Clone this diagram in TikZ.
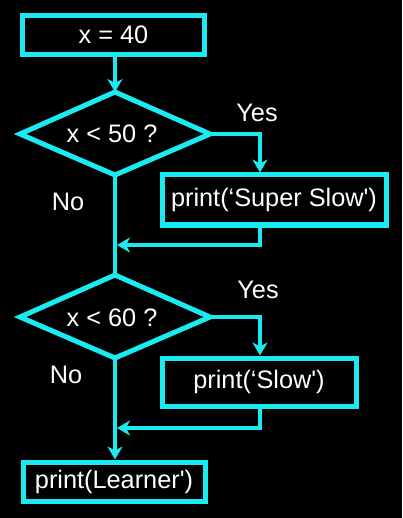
\documentclass[tikz,border=0pt]{standalone}
\usepackage{fontspec}
\setmainfont{Liberation Sans}
\usetikzlibrary{arrows.meta,shapes.geometric}
\definecolor{cy}{RGB}{25,235,240}
\newcommand{\sq}{\textquotesingle}
\begin{document}
\begin{tikzpicture}[x=1pt,y=-1pt,
  box/.style={draw=cy,line width=5pt,minimum height=#1,inner sep=0pt,text=white,font=\fontsize{25.3}{29}\selectfont},
  dec/.style={draw=cy,line width=5pt,text=white,font=\fontsize{25.3}{29}\selectfont},
  conn/.style={draw=cy,line width=4pt},
  arr/.style={conn,-{Stealth[length=13pt,width=15pt,inset=4pt]}},
  lbl/.style={text=white,font=\fontsize{25.3}{29}\selectfont}]
\fill[black] (0,0) rectangle (402,518);
\useasboundingbox (0,0) rectangle (402,518);
\node[box=39pt,minimum width=182pt] (a) at (113.5,35) {x = 40};
\draw[dec,line join=miter] (20,134) -- (115,92) -- (210,134) -- (115,175) -- cycle;
\coordinate (d1t) at (115,92);
\coordinate (d1r) at (210,134);
\coordinate (d1b) at (115,175);
\node[lbl] at (112,134) {x < 50 ?};
\node[box=50pt,minimum width=224pt] (b) at (274,200) {print(‘Super Slow\sq)};
\coordinate (c1) at (260,134);
\coordinate (c2) at (260,245);
\coordinate (c3) at (115,245);
\draw[dec,line join=miter] (20,317) -- (115,275) -- (210,317) -- (115,358) -- cycle;
\coordinate (d2t) at (115,275);
\coordinate (d2r) at (210,317);
\coordinate (d2b) at (115,358);
\node[lbl] at (112,318) {x < 60 ?};
\node[box=48pt,minimum width=194pt] (c) at (259,382) {print(‘Slow\sq)};
\coordinate (e1) at (260,317);
\coordinate (e2) at (260,428);
\coordinate (e3) at (115,428);
\node[box=39pt,minimum width=182pt] (d) at (114,481.5) {print(Learner\sq)};
\node[lbl] at (257,113) {Yes};
\node[lbl] at (68,202) {No};
\node[lbl] at (258,290) {Yes};
\node[lbl] at (66,375) {No};
\draw[arr] (115,55) -- (d1t);
\draw[arr] (d1r) -- (c1) -- (b.north -| c1);
\draw[arr] (b.south -| c2) -- (c2) -- (117,245);
\draw[conn] (d1b) -- (d2t);
\draw[arr] (d2r) -- (e1) -- (c.north -| e1);
\draw[arr] (c.south -| e2) -- (e2) -- (117,428);
\draw[arr] (d2b) -- (d.north -| d2b);
\end{tikzpicture}
\end{document}
